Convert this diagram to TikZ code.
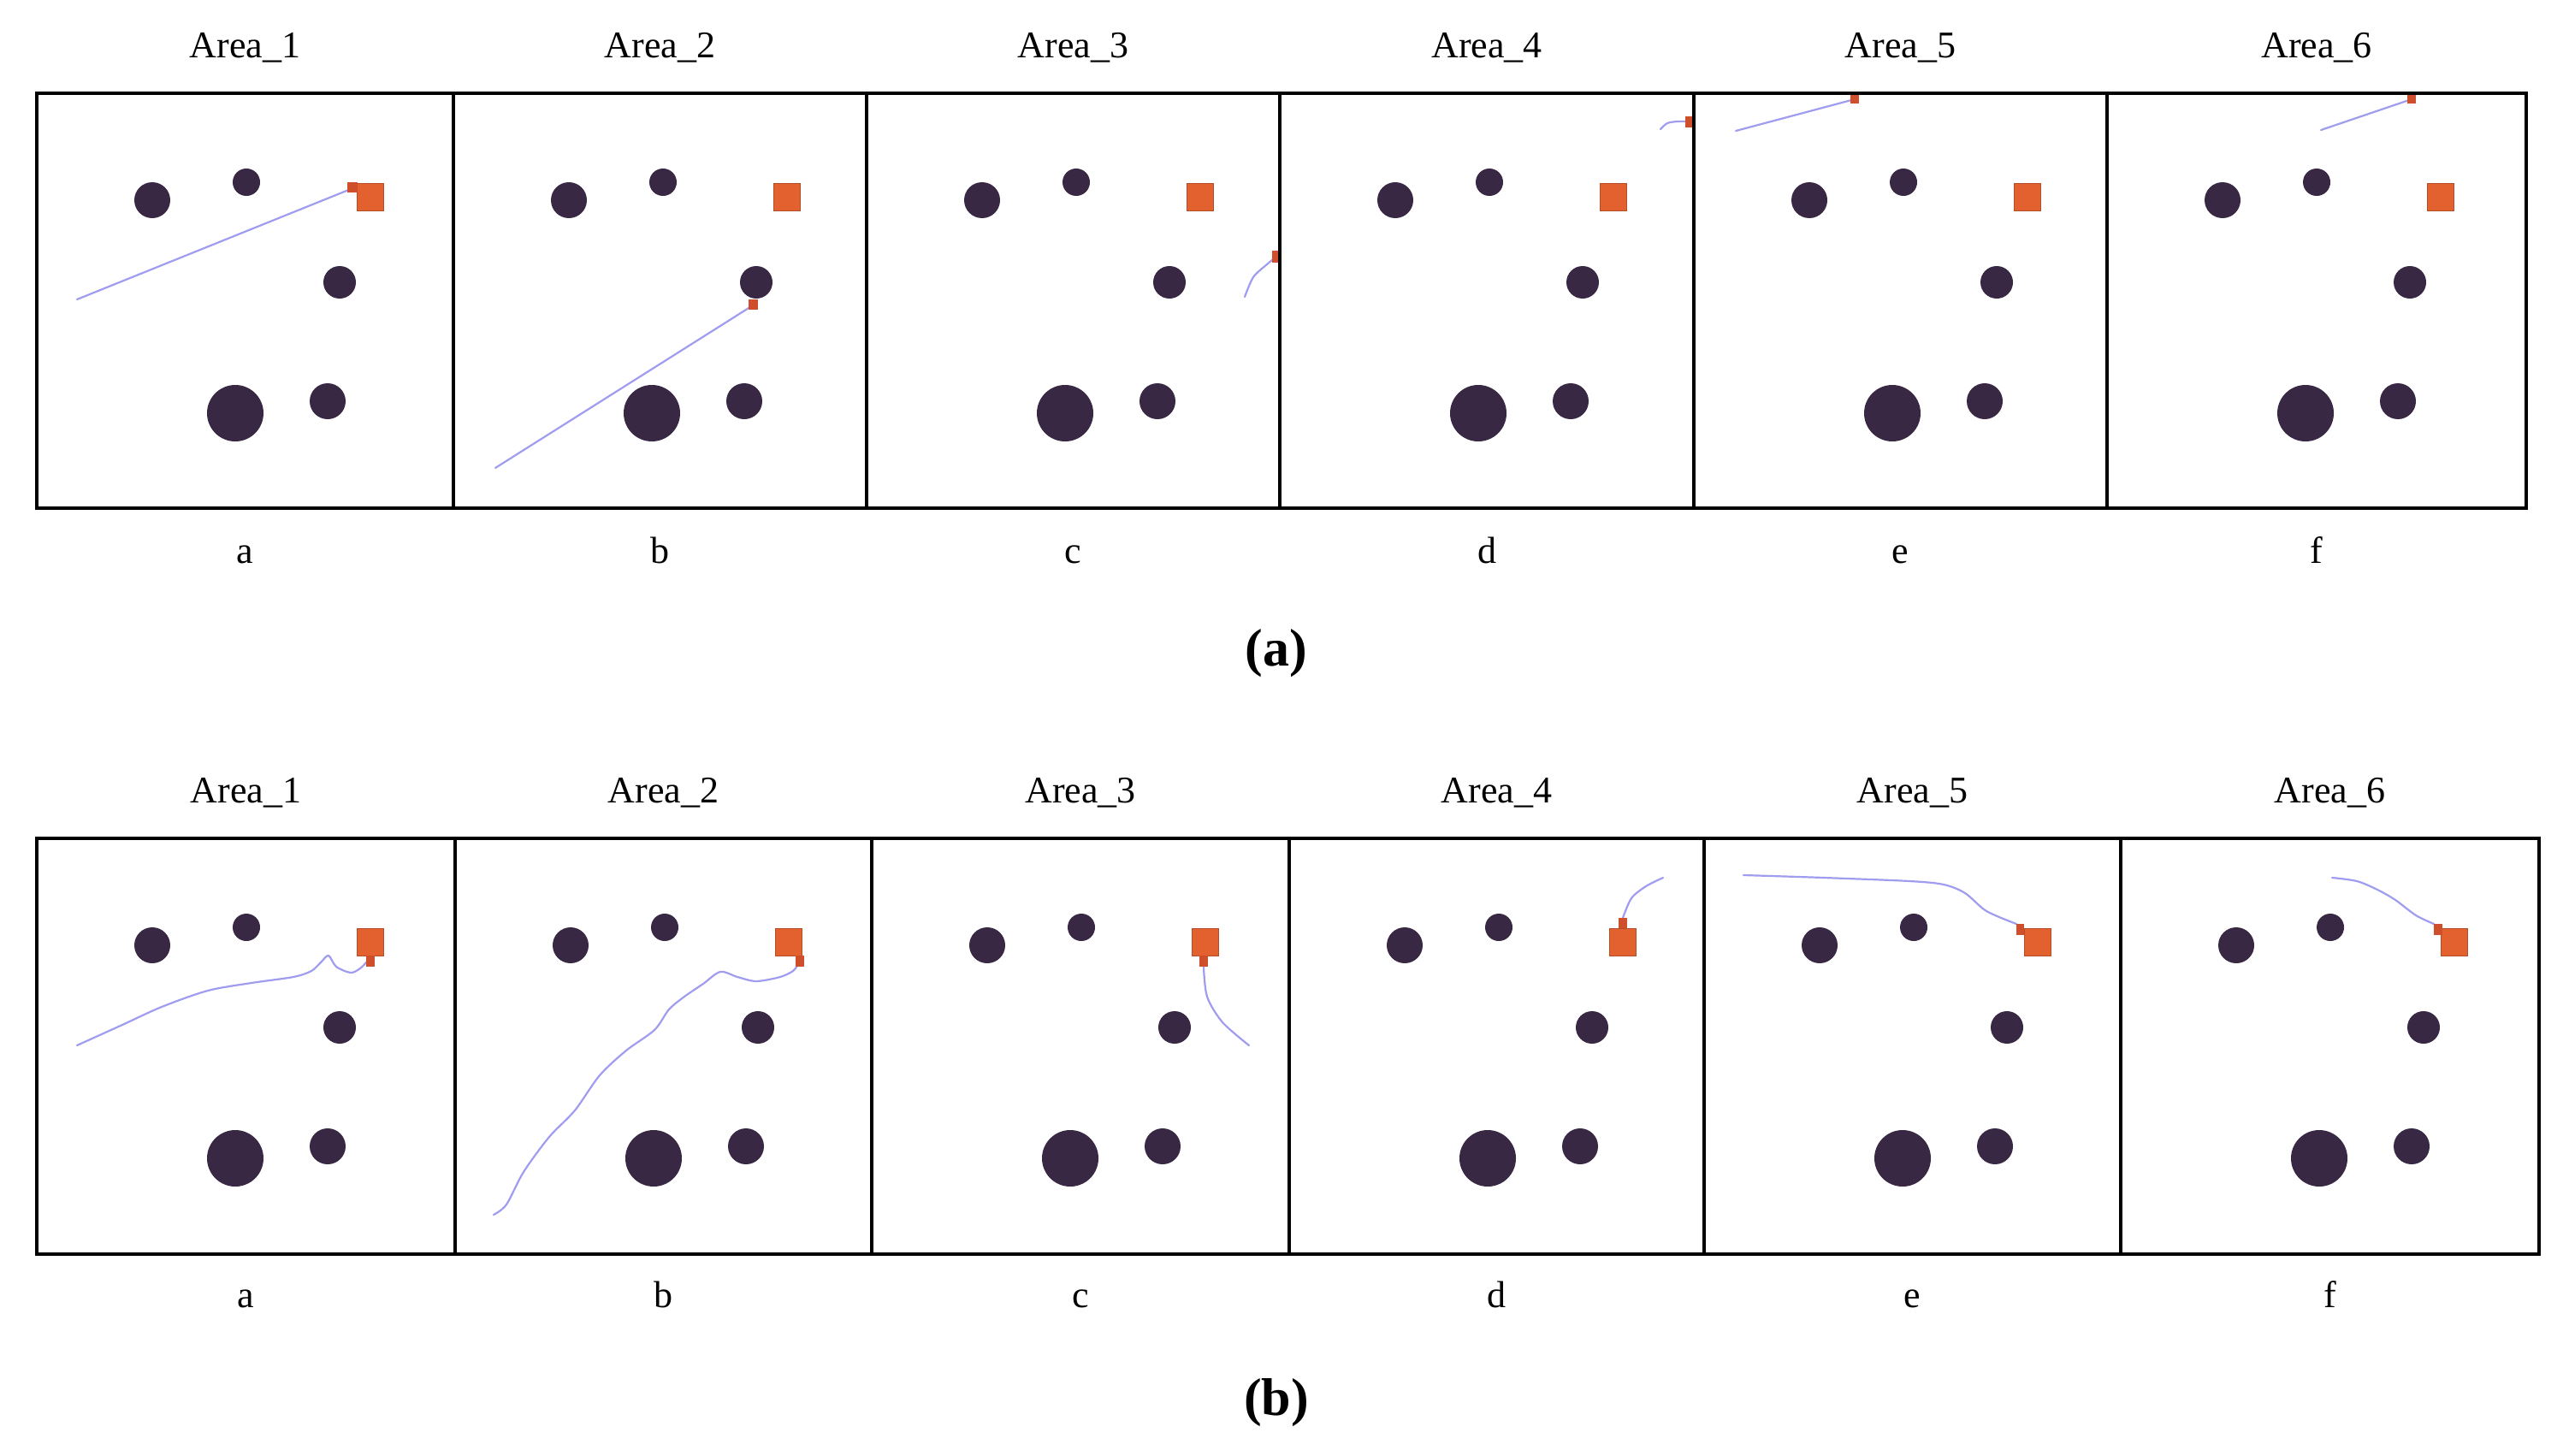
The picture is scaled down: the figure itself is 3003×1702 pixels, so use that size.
\documentclass[tikz,border=0pt]{standalone}
\usepackage{fontspec}
\setmainfont{Liberation Serif}
\begin{document}
\begin{tikzpicture}[x=1pt,y=-1pt,
  obs/.style={fill=obsc},
  goal/.style={fill=goalc,draw=goalc!80!black,line width=1pt},
  rob/.style={fill=robc},
  trail/.style={draw=trailc,line width=2.2pt,line cap=round,line join=round},
  frame/.style={draw=black,line width=4.5pt},
  ttl/.style={font=\fontsize{44}{50}\selectfont,anchor=base,inner sep=0pt},
  captxt/.style={font=\fontsize{62}{70}\selectfont\bfseries}]
\definecolor{obsc}{HTML}{382844}
\definecolor{goalc}{HTML}{E2612F}
\definecolor{robc}{HTML}{CF4F2C}
\definecolor{trailc}{HTML}{A09CF0}
\useasboundingbox (0,0) rectangle (3003,1702);
\fill[white] (0,0) rectangle (3003,1702);
\newcommand\obstset{%
  \fill[obs] (135,125) circle (21);
  \fill[obs] (245,104) circle (16);
  \fill[obs] (354,221) circle (19);
  \fill[obs] (232,374) circle (33);
  \fill[obs] (340,360) circle (21);
  \filldraw[goal] (374,105) rectangle (405,137);}
% ---------- row (a) ----------
\foreach \l/\r/\t/\lab [count=\i] in {43/530/Area\_1/a,530/1013/Area\_2/b,1013/1496/Area\_3/c,1496/1980/Area\_4/d,1980/2463/Area\_5/e,2463/2953/Area\_6/f}{
  \begin{scope}[shift={(\l,109)}] \obstset \end{scope}
  \node[ttl] (ta\i) at ({(\l+\r)/2},67) {\t};
  \node[ttl] (la\i) at ({(\l+\r)/2},658) {\lab};
}
\begin{scope}[shift={(43,109)}]
  \draw[trail] (47,241) -- (367,112);
  \fill[rob] (363,104) rectangle (375,116);
\end{scope}
\begin{scope}[shift={(530,109)}]
  \draw[trail] (49,438) -- (350,248);
  \fill[rob] (345,241) rectangle (356,253);
\end{scope}
\begin{scope}[shift={(1013,109)}]
  \draw[trail] plot[smooth] coordinates {(442,238) (452,215) (468,200) (479,191)};
  \fill[rob] (474,184) rectangle (484,198);
\end{scope}
\begin{scope}[shift={(1496,109)}]
  \draw[trail] plot[smooth] coordinates {(445,42) (453,35) (465,33) (480,33)};
  \fill[rob] (474,27) rectangle (484,40);
\end{scope}
\begin{scope}[shift={(1980,109)}]
  \draw[trail] (49,44) -- (188,7);
  \fill[rob] (183,1) rectangle (193,12);
\end{scope}
\begin{scope}[shift={(2463,109)}]
  \draw[trail] (250,43) -- (356,7);
  \fill[rob] (351,1) rectangle (361,12);
\end{scope}
\foreach \l/\r in {43/530,530/1013,1013/1496,1496/1980,1980/2463,2463/2953}
  \draw[frame] (\l,109) rectangle (\r,594);
\node[captxt] (capa) at (1492,764) {(a)};
% ---------- row (b) ----------
\foreach \l/\r/\t/\lab [count=\i] in {43/532/Area\_1/a,532/1019/Area\_2/b,1019/1507/Area\_3/c,1507/1992/Area\_4/d,1992/2479/Area\_5/e,2479/2968/Area\_6/f}{
  \begin{scope}[shift={(\l,980)}] \obstset \end{scope}
  \node[ttl] (tb\i) at ({(\l+\r)/2},938) {\t};
  \node[ttl] (lb\i) at ({(\l+\r)/2},1528) {\lab};
}
\begin{scope}[shift={(43,980)}]
  \draw[trail] plot[smooth,tension=0.5] coordinates {(47,242) (100,218) (146,197) (200,178) (251,169) (300,162) (321,155) (332,145) (341,137) (350,150) (367,157) (378,152) (386,144)};
  \fill[rob] (385,137) rectangle (395,150);
\end{scope}
\begin{scope}[shift={(532,980)}]
  \draw[trail] plot[smooth,tension=0.5] coordinates {(45,440) (60,428) (80,390) (110,349) (140,318) (169,277) (200,248) (233,224) (250,200) (268,185) (290,170) (310,156) (330,162) (352,167) (380,162) (395,155) (401,147)};
  \fill[rob] (398,137) rectangle (408,150);
\end{scope}
\begin{scope}[shift={(1019,980)}]
  \draw[trail] plot[smooth] coordinates {(388,150) (392,185) (410,215) (441,242)};
  \fill[rob] (383,137) rectangle (393,150);
\end{scope}
\begin{scope}[shift={(1507,980)}]
  \draw[trail] plot[smooth] coordinates {(390,93) (400,70) (417,56) (437,46)};
  \fill[rob] (385,93) rectangle (395,105);
\end{scope}
\begin{scope}[shift={(1992,980)}]
  \draw[trail] plot[smooth] coordinates {(46,43) (140,46) (240,50) (280,54) (305,64) (330,85) (365,100)};
  \fill[rob] (365,100) rectangle (374,113);
\end{scope}
\begin{scope}[shift={(2479,980)}]
  \draw[trail] plot[smooth] coordinates {(247,46) (276,50) (300,60) (321,72) (345,90) (366,100)};
  \fill[rob] (366,100) rectangle (376,113);
\end{scope}
\foreach \l/\r in {43/532,532/1019,1019/1507,1507/1992,1992/2479,2479/2968}
  \draw[frame] (\l,980) rectangle (\r,1466);
\node[captxt] (capb) at (1492,1640) {(b)};
\end{tikzpicture}
\end{document}
